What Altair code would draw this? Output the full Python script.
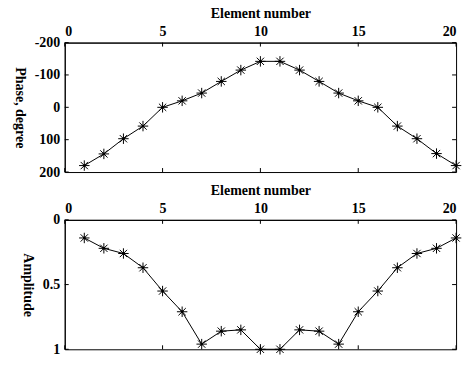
import altair as alt
import pandas as pd

elements = list(range(1, 21))
phase = [180, 144, 97, 58, 0, -20, -44, -80, -115, -142,
         -142, -115, -80, -44, -20, 0, 58, 97, 143, 180]
amplitude = [0.14, 0.22, 0.26, 0.37, 0.55, 0.71, 0.96, 0.86, 0.85, 1.0,
             1.0, 0.85, 0.86, 0.96, 0.71, 0.55, 0.37, 0.26, 0.22, 0.14]
x_ticks = [0, 5, 10, 15, 20]
phase_ticks = [-200, -100, 0, 100, 200]
amp_ticks = [0, 0.5, 1]

df = pd.DataFrame({"el": elements, "phase": phase, "amp": amplitude})

W, H = 393, 130
FONT = "Liberation Serif"
STAR = "M-1,0L1,0M0,-1L0,1M-0.7,-0.7L0.7,0.7M-0.7,0.7L0.7,-0.7"
TK = 4


def panel(field, ydomain, yticks, ytitle):
    xs = alt.Scale(domain=[0, 20], nice=False, zero=False)
    ys = alt.Scale(domain=ydomain, reverse=True, nice=False, zero=False)
    xaxis = alt.Axis(orient="top", values=x_ticks, title="Element number",
                     tickSize=0, labelPadding=4, titlePadding=4, grid=False,
                     labelOverlap=False)
    yaxis = alt.Axis(values=yticks, title=ytitle, tickSize=0, labelPadding=5,
                     titlePadding=8, grid=False, titleAngle=90,
                     titleBaseline="top", labelOverlap=False,
                     labelExpr="datum.value + ''")
    base = alt.Chart(df)
    x = alt.X("el:Q", scale=xs, axis=xaxis)
    y = alt.Y(f"{field}:Q", scale=ys, axis=yaxis)
    line = base.mark_line(color="black", strokeWidth=1).encode(x=x, y=y)
    pts = base.mark_point(shape=STAR, size=110, color="black", filled=False,
                          strokeWidth=1, opacity=1).encode(x=x, y=y)
    dots = base.mark_circle(size=8, color="black", opacity=1).encode(x=x, y=y)
    xt = pd.DataFrame({"t": x_ticks})
    yt = pd.DataFrame({"t": yticks})
    tx = alt.X("t:Q", scale=xs, axis=xaxis)
    ty = alt.Y("t:Q", scale=ys, axis=yaxis)
    top_ticks = alt.Chart(xt).mark_rule(color="black").encode(
        x=tx, y=alt.value(0), y2=alt.value(TK))
    bot_ticks = alt.Chart(xt).mark_rule(color="black").encode(
        x=tx, y=alt.value(H), y2=alt.value(H - TK))
    left_ticks = alt.Chart(yt).mark_rule(color="black").encode(
        y=ty, x=alt.value(0), x2=alt.value(TK))
    right_ticks = alt.Chart(yt).mark_rule(color="black").encode(
        y=ty, x=alt.value(W), x2=alt.value(W - TK))
    return alt.layer(line, pts, dots, top_ticks, bot_ticks, left_ticks,
                     right_ticks).properties(width=W, height=H)


upper = panel("phase", [-200, 200], phase_ticks, "Phase, degree")
lower = panel("amp", [0, 1], amp_ticks, "Amplitude")

chart = alt.vconcat(upper, lower, spacing=3).properties(
    padding={"left": 11, "top": 5, "right": 10, "bottom": 5},
    background="white",
).configure_view(stroke="black", strokeWidth=1).configure_axis(
    labelFont=FONT, titleFont=FONT, labelFontSize=14, titleFontSize=14,
    labelFontWeight="bold", titleFontWeight="bold", labelColor="black",
    titleColor="black", domainColor="black", domainWidth=1,
)

chart.save("out.html", embed_options={"renderer": "svg", "actions": False})
